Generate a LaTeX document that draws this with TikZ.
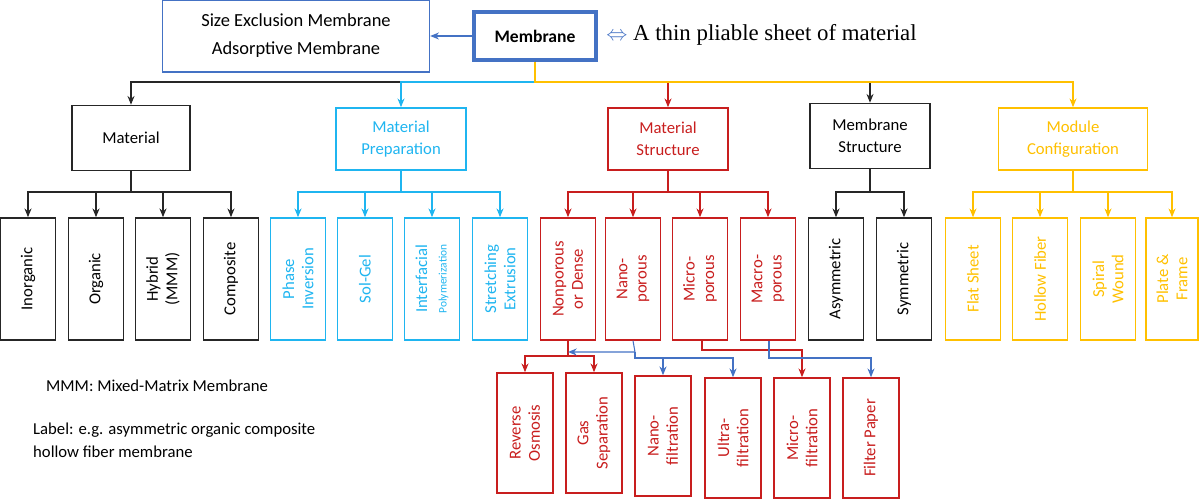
\documentclass[tikz,border=0pt]{standalone}
\usepackage{fontspec}
\setmainfont{Carlito}
\newfontfamily\serifft{Liberation Serif}
\usetikzlibrary{arrows.meta}
\definecolor{cblack}{HTML}{262626}
\definecolor{csky}{HTML}{1FB5F0}
\definecolor{cred}{HTML}{C81E1E}
\definecolor{cyel}{HTML}{FFC000}
\definecolor{cblue}{HTML}{4472C4}
\tikzset{
  arr/.style={-{Stealth[length=5pt,width=4pt]}, line width=0.6pt},
  box1/.style={draw, line width=0.9pt, minimum width=2.36cm, minimum height=1.3cm, align=center, font=\fontsize{9.5}{12.5}\selectfont},
  box2/.style={draw, line width=0.9pt, rotate=90, minimum width=2.44cm, minimum height=1.1cm, align=center, inner sep=1pt, font=\fontsize{9.5}{11}\selectfont},
  box3/.style={box2, minimum width=2.4cm, minimum height=1.12cm},
  note/.style={anchor=west, align=left, font=\fontsize{9.5}{13}\selectfont},
}
\begin{document}
\begin{tikzpicture}[x=0.02cm, y=-0.02cm]
\useasboundingbox (0,0) rectangle (1200,503);
% top
\node[draw=cblue, line width=0.8pt, minimum width=5.34cm, minimum height=1.44cm, align=center, font=\fontsize{10.5}{16}\selectfont] (types) at (296,36) {Size Exclusion Membrane\\Adsorptive Membrane};
\node[draw=cblue, line width=2pt, minimum width=2.44cm, minimum height=0.96cm, font=\bfseries\fontsize{10}{12}\selectfont] (mem) at (535,36) {Membrane};
\node[anchor=west, inner sep=0pt, font=\serifft\fontsize{13}{15}\selectfont] (def) at (606,35) {\textcolor{cblue}{$\Leftrightarrow$} A thin pliable sheet of material};
\draw[arr, cblue] (mem.west) -- (types.east);
% level 1
\node[box1, draw=cblack] (mat) at (131,138) {Material};
\node[box1, draw=csky, text=csky, minimum width=2.6cm, minimum height=1.24cm] (prep) at (401,139) {Material\\Preparation};
\node[box1, draw=cred, text=cred, minimum width=2.4cm, minimum height=1.24cm] (mstr) at (668,139) {Material\\Structure};
\node[box1, draw=cblack, minimum width=2.4cm] (bstr) at (870,136) {Membrane\\Structure};
\node[box1, draw=cyel, text=cyel, minimum width=2.98cm, minimum height=1.24cm] (mod) at (1073,139) {Module\\Configuration};
\coordinate (bus) at (535,82);
\draw[arr, cblack] (mem.south) -- (bus) -| (mat.north);
\draw[arr, cblack] (mem.south) -- (bus) -| (bstr.north);
\draw[arr, csky] (mem.south) -- (bus) -| (prep.north);
\draw[arr, cred] (mem.south) -- (bus) -| (mstr.north);
\draw[arr, cyel] (mem.south) -- (bus) -| (mod.north);
% level 2: material
\node[box2, draw=cblack] (ino) at (28,279) {Inorganic};
\node[box2, draw=cblack] (org) at (96,279) {Organic};
\node[box2, draw=cblack] (hyb) at (163,279) {Hybrid\\(MMM)};
\node[box2, draw=cblack] (com) at (231,279) {Composite};
\coordinate (matb) at (131,192);
\foreach \n in {ino,org,hyb,com} \draw[arr, cblack] (mat.south) -- (matb) -| (\n.east);
% preparation
\node[box2, draw=csky, text=csky] (pha) at (298,279) {Phase\\Inversion};
\node[box2, draw=csky, text=csky] (sol) at (365,279) {Sol-Gel};
\node[box2, draw=csky, text=csky] (int) at (432,279) {Interfacial\\{\fontsize{6.5}{7.5}\selectfont Polymerization}};
\node[box2, draw=csky, text=csky] (str) at (500,279) {Stretching\\Extrusion};
\coordinate (prepb) at (401,192);
\foreach \n in {pha,sol,int,str} \draw[arr, csky] (prep.south) -- (prepb) -| (\n.east);
% structure
\node[box2, draw=cred, text=cred] (np) at (568,279) {Nonporous\\or Dense};
\node[box2, draw=cred, text=cred] (nano) at (633,279) {Nano-\\porous};
\node[box2, draw=cred, text=cred] (micro) at (700,279) {Micro-\\porous};
\node[box2, draw=cred, text=cred] (macro) at (768,279) {Macro-\\porous};
\coordinate (mstrb) at (668,192);
\foreach \n in {np,nano,micro,macro} \draw[arr, cred] (mstr.south) -- (mstrb) -| (\n.east);
% membrane structure
\node[box2, draw=cblack] (asy) at (836,279) {Asymmetric};
\node[box2, draw=cblack] (sym) at (904,279) {Symmetric};
\coordinate (bstrb) at (870,192);
\foreach \n in {asy,sym} \draw[arr, cblack] (bstr.south) -- (bstrb) -| (\n.east);
% module
\node[box2, draw=cyel, text=cyel] (flat) at (973,279) {Flat Sheet};
\node[box2, draw=cyel, text=cyel] (hol) at (1040,279) {Hollow Fiber};
\node[box2, draw=cyel, text=cyel] (spi) at (1108,279) {Spiral\\Wound};
\node[box2, draw=cyel, text=cyel, minimum height=1.04cm] (pla) at (1172,279) {Plate \&\\Frame};
\coordinate (modb) at (1073,192);
\foreach \n in {flat,hol,spi,pla} \draw[arr, cyel] (mod.south) -- (modb) -| (\n.east);
% level 3
\node[box3, draw=cred, text=cred] (ro) at (525,433) {Reverse\\Osmosis};
\node[box3, draw=cred, text=cred] (gas) at (594,433) {Gas\\Separation};
\node[box3, draw=cred, text=cred] (nf) at (663,436) {Nano-\\filtration};
\node[box3, draw=cred, text=cred] (uf) at (733,438) {Ultra-\\filtration};
\node[box3, draw=cred, text=cred] (mf) at (802,438) {Micro-\\filtration};
\node[box3, draw=cred, text=cred] (fp) at (871,438) {Filter Paper};
\coordinate (npb) at (568,356);
\coordinate (nanob) at (635,352);
\coordinate (nanoc) at (635,358);
\coordinate (microb) at (702,350);
\coordinate (macrob) at (769,358);
\coordinate (npj) at (568,352);
\draw[arr, cred] (np.west) -- (npb) -| (ro.east);
\draw[arr, cred] (np.west) -- (npb) -| (gas.east);
\draw[arr, cblue] (nano.west |- np.west) -- (nanob) -- (npj);
\draw[arr, cblue] (nanob) -- (nanoc) -| (nf.east);
\draw[arr, cblue] (nanob) -- (nanoc) -| (uf.east);
\draw[arr, cred] (micro.west) ++(2,0) -- (microb) -| (mf.east);
\draw[arr, cblue] (macro.west) ++(1,0) -- (macrob) -| (fp.east);
% notes
\node[note] (mmm) at (40,386) {MMM: Mixed-Matrix Membrane};
\node[note] (lab) at (27,440) {Label: e.g. asymmetric organic composite\\hollow fiber membrane};
\end{tikzpicture}
\end{document}
